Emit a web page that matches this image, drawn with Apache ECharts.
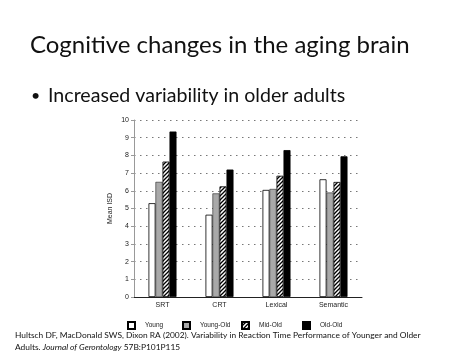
<!DOCTYPE html>
<html><head><meta charset="utf-8">
<script src="https://cdn.jsdelivr.net/npm/echarts@6/dist/echarts.min.js"></script>
<style>html,body{margin:0;padding:0;background:#fff;}#c{width:474px;height:355px;}</style>
</head><body><div id="c"></div>
<script>
const categories = ['SRT', 'CRT', 'Lexical', 'Semantic'];
const seriesNames = ['Young', 'Young-Old', 'Mid-Old', 'Old-Old'];
const young = [5.3, 4.65, 6.05, 6.65];
const youngOld = [6.5, 5.85, 6.1, 5.9];
const midOld = [7.65, 6.25, 6.85, 6.5];
const oldOld = [9.35, 7.2, 8.3, 7.95];
const yTicks = [0, 1, 2, 3, 4, 5, 6, 7, 8, 9, 10];

function hatch() {
  const c = document.createElement('canvas');
  c.width = 4; c.height = 4;
  const g = c.getContext('2d');
  g.fillStyle = '#fff'; g.fillRect(0, 0, 4, 4);
  g.strokeStyle = '#000'; g.lineWidth = 1.3;
  g.beginPath();
  g.moveTo(-1, 5); g.lineTo(5, -1);
  g.moveTo(-3, 3); g.lineTo(3, -3);
  g.moveTo(1, 7); g.lineTo(7, 1);
  g.stroke();
  return { image: c, repeat: 'repeat' };
}
const fills = ['#ffffff', '#a9a9a9', hatch(), '#000000'];
const values = [young, youngOld, midOld, oldOld];

const chart = echarts.init(document.getElementById('c'), null, { renderer: 'canvas' });
const legendLeft = [127, 182, 241, 302];
chart.setOption({
  animation: false,
  backgroundColor: '#fff',
  grid: { left: 134, top: 120, width: 228, height: 177, containLabel: false },
  xAxis: {
    type: 'category', data: categories,
    axisLine: { lineStyle: { color: '#222', width: 1 } },
    axisTick: { show: false },
    axisLabel: { color: '#222', fontSize: 7, fontFamily: 'Liberation Sans', margin: 5 }
  },
  yAxis: {
    type: 'value', min: 0, max: 10, interval: 1,
    name: 'Mean ISD', nameLocation: 'middle', nameGap: 20,
    nameTextStyle: { color: '#222', fontSize: 7, fontFamily: 'Liberation Sans' },
    axisLine: { show: true, lineStyle: { color: '#999', width: 1 } },
    axisTick: { show: true, length: 3, lineStyle: { color: '#999' } },
    axisLabel: { color: '#222', fontSize: 7, fontFamily: 'Liberation Sans', margin: 5,
      formatter: v => yTicks.includes(v) ? String(v) : '' },
    splitLine: { show: true, lineStyle: { color: '#777', type: [1.5, 4.5], width: 1 } }
  },
  legend: seriesNames.map((n, i) => ({
    data: [n], left: legendLeft[i], top: 321, itemWidth: 7, itemHeight: 7, itemGap: 4,
    textStyle: { fontSize: 6.5, color: '#222', fontFamily: 'Liberation Sans', padding: [0, 0, 0, 5] },
    icon: 'rect', padding: 0
  })),
  series: seriesNames.map((n, i) => ({
    name: n, type: 'bar', data: values[i], barWidth: 7, barGap: '0%',
    itemStyle: { color: fills[i], borderColor: '#000', borderWidth: i === 1 ? 0.5 : 0.8 }
  })),
  graphic: [
    { type: 'text', left: 30, top: 33, style: { text: 'Cognitive changes in the aging brain', font: '24px Lato', fill: '#111' } },
    { type: 'text', left: 31, top: 88, style: { text: '•', font: '16px Lato', fill: '#111' } },
    { type: 'text', left: 48, top: 86, style: { text: 'Increased variability in older adults', font: '19.6px Lato', fill: '#111' } },
    { type: 'text', left: 15, top: 331, style: {
      text: 'Hultsch DF, MacDonald SWS, Dixon RA (2002). Variability in Reaction Time Performance of Younger and Older',
      fontSize: 8.4, fontFamily: 'Lato', fill: '#111' } },
    { type: 'text', left: 15, top: 343, style: {
      text: '{n|Adults. }{i|Journal of Gerontology}{n| 57B:P101P115}',
      fontSize: 8.4, fontFamily: 'Lato', fill: '#111',
      rich: {
        n: { fontSize: 8.4, fontFamily: 'Lato', fill: '#111' },
        i: { fontStyle: 'italic', fontSize: 8.4, fontFamily: 'Lato', fill: '#111' }
      } } }
  ]
});
</script></body></html>
